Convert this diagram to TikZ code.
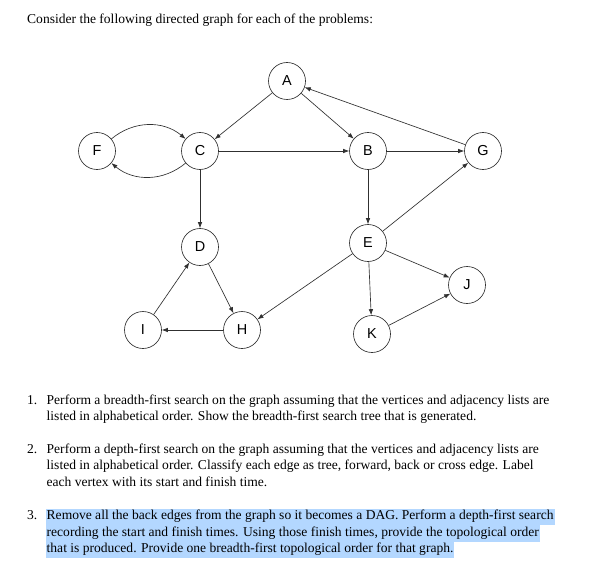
\documentclass[tikz,border=0pt]{standalone}
\usepackage{fontspec}
\setmainfont{Liberation Serif}
\newfontfamily\nodefont{Liberation Sans}
\usetikzlibrary{arrows.meta}
\definecolor{hl}{HTML}{B3D7FF}
\definecolor{edgec}{HTML}{303030}
\begin{document}
\begin{tikzpicture}[x=1bp,y=-1bp,
  vertex/.style={circle, draw=edgec, line width=0.65bp, minimum size=37bp, inner sep=0pt,
    font=\nodefont\fontsize{14.5}{14.5}\selectfont},
  edge/.style={draw=edgec, line width=0.65bp, -{Latex[length=6bp,width=4.5bp]}},
  txt/.style={anchor=base west, inner sep=0pt, font=\fontsize{13.6}{16}\selectfont},
  hltxt/.style={txt, fill=hl, inner xsep=1bp, text height=11bp, text depth=5.5bp}]
\useasboundingbox (0,0) rectangle (590,569);
\fill[white] (0,0) rectangle (590,569);

% title
\node[txt] (title) at (27,24) {Consider the following directed graph for each of the problems:};

% vertices
\node[vertex] (A) at (287,81) {A};
\node[vertex] (F) at (97,151) {F};
\node[vertex] (C) at (200,151) {C};
\node[vertex] (B) at (368,151) {B};
\node[vertex] (G) at (483,151) {G};
\node[vertex] (D) at (200,247) {D};
\node[vertex] (E) at (368,243) {E};
\node[vertex] (J) at (467,285) {J};
\node[vertex] (I) at (143,330) {I};
\node[vertex] (H) at (242,330) {H};
\node[vertex] (K) at (372,334) {K};

% edges
\draw[edge] (A) -- (C);
\draw[edge] (A) -- (B);
\draw[edge] (G) -- (A);
\draw[edge] (F) to[out=40,in=140] (C);
\draw[edge] (C) to[out=-140,in=-40] (F);
\draw[edge] (C) -- (B);
\draw[edge] (C) -- (D);
\draw[edge] (B) -- (G);
\draw[edge] (B) -- (E);
\draw[edge] (E) -- (G);
\draw[edge] (E) -- (J);
\draw[edge] (E) -- (H);
\draw[edge] (E) -- (K);
\draw[edge] (K) -- (J);
\draw[edge] (D) -- (H);
\draw[edge] (H) -- (I);
\draw[edge] (I) -- (D);

% list
\node[txt] (n1) at (27,404) {1.};
\node[txt] (l11) at (46.5,404) {Perform a breadth-first search on the graph assuming that the vertices and adjacency lists are};
\node[txt] (l12) at (46.5,420.5) {listed in alphabetical order. Show the breadth-first search tree that is generated.};

\node[txt] (n2) at (27,453) {2.};
\node[txt] (l21) at (46.5,453) {Perform a depth-first search on the graph assuming that the vertices and adjacency lists are};
\node[txt] (l22) at (46.5,469.5) {listed in alphabetical order. Classify each edge as tree, forward, back or cross edge. Label};
\node[txt] (l23) at (46.5,486) {each vertex with its start and finish time.};

\node[txt] (n3) at (27,519.5) {3.};
\node[hltxt] (l31) at (45.5,519.5) {Remove all the back edges from the graph so it becomes a DAG. Perform a depth-first search};
\node[hltxt] (l32) at (45.5,536) {recording the start and finish times. Using those finish times, provide the topological order};
\node[hltxt] (l33) at (45.5,552.5) {that is produced. Provide one breadth-first topological order for that graph.};
\end{tikzpicture}
\end{document}
